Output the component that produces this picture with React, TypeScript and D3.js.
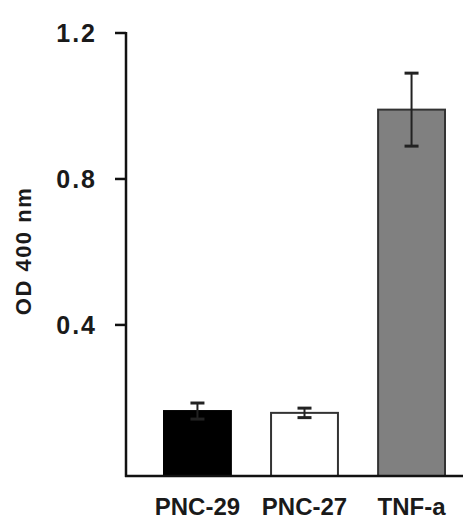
import * as d3 from 'd3';
import { useEffect, useRef } from 'react';

const categories = ['PNC-29', 'PNC-27', 'TNF-a'];
const values = [0.164, 0.159, 0.99];
const errors = [0.022, 0.013, 0.1];
const fills = ['#000000', '#ffffff', '#808080'];
const yTicks = [0.4, 0.8, 1.2];
const yLabel = 'OD 400 nm';

const W = 474;
const H = 526;

const App = () => {
  const ref = useRef<SVGSVGElement | null>(null);

  useEffect(() => {
    const svg = d3.select(ref.current);
    svg.selectAll('*').remove();

    const font = '"Liberation Sans", Arial, sans-serif';

    const y = d3.scaleLinear().domain([-0.014, 1.2]).range([476, 33]);
    const x = d3.scaleBand<string>()
      .domain(categories)
      .range([126, 483])
      .paddingInner(0.375)
      .paddingOuter(0.355);

    const g = svg.append('g');

    // bars
    g.selectAll('.bar')
      .data(categories)
      .enter()
      .append('rect')
      .attr('class', 'bar')
      .attr('x', (d) => x(d) || 0)
      .attr('y', (d, i) => y(values[i]))
      .attr('width', x.bandwidth())
      .attr('height', (d, i) => y(y.domain()[0]) - y(values[i]))
      .attr('fill', (d, i) => fills[i])
      .attr('stroke', (d, i) => (i === 0 ? '#000' : '#333'))
      .attr('stroke-width', 2);

    // error bars
    const cap = 7;
    categories.forEach((c, i) => {
      const cx = (x(c) || 0) + x.bandwidth() / 2;
      const hi = y(values[i] + errors[i]);
      const lo = y(values[i] - errors[i]);
      const eg = g.append('g').attr('stroke', '#222').attr('stroke-width', 2);
      eg.append('line').attr('x1', cx).attr('x2', cx).attr('y1', hi).attr('y2', lo);
      eg.append('line').attr('x1', cx - cap).attr('x2', cx + cap).attr('y1', hi).attr('y2', hi).attr('stroke-width', 3);
      eg.append('line').attr('x1', cx - cap).attr('x2', cx + cap).attr('y1', lo).attr('y2', lo).attr('stroke-width', 3);
    });

    // y axis
    g.append('line')
      .attr('x1', 126).attr('x2', 126)
      .attr('y1', y(1.2) - 1).attr('y2', 477)
      .attr('stroke', '#111').attr('stroke-width', 2.5);
    // x axis
    g.append('line')
      .attr('x1', 125).attr('x2', 463)
      .attr('y1', 476).attr('y2', 476)
      .attr('stroke', '#111').attr('stroke-width', 2.5);

    g.selectAll('.tick')
      .data(yTicks)
      .enter()
      .append('line')
      .attr('class', 'tick')
      .attr('x1', 115).attr('x2', 126)
      .attr('y1', (d) => y(d)).attr('y2', (d) => y(d))
      .attr('stroke', '#111').attr('stroke-width', 2.5);

    g.selectAll('.tlabel')
      .data(yTicks)
      .enter()
      .append('text')
      .attr('class', 'tlabel')
      .attr('x', 97)
      .attr('y', (d) => y(d))
      .attr('dy', '0.36em')
      .attr('text-anchor', 'end')
      .attr('font-family', font)
      .attr('font-weight', 'bold')
      .attr('font-size', 25)
      .attr('letter-spacing', 2)
      .attr('fill', '#1a1a1a')
      .text((d) => d3.format('.1f')(d));

    g.selectAll('.clabel')
      .data(categories)
      .enter()
      .append('text')
      .attr('class', 'clabel')
      .attr('x', (d) => (x(d) || 0) + x.bandwidth() / 2)
      .attr('y', 515)
      .attr('text-anchor', 'middle')
      .attr('font-family', font)
      .attr('font-weight', 'bold')
      .attr('font-size', 24)
      .attr('fill', '#1a1a1a')
      .text((d) => d);

    g.append('text')
      .attr('transform', 'translate(31,251) rotate(-90)')
      .attr('text-anchor', 'middle')
      .attr('font-family', font)
      .attr('font-weight', 'bold')
      .attr('font-size', 22)
      .attr('letter-spacing', 1.5)
      .attr('fill', '#1a1a1a')
      .text(yLabel);
  }, []);

  return (
    <svg
      ref={ref}
      width={W}
      height={H}
      style={{ position: 'absolute', left: 0, top: 0, background: '#fff' }}
    />
  );
};

export default App;
